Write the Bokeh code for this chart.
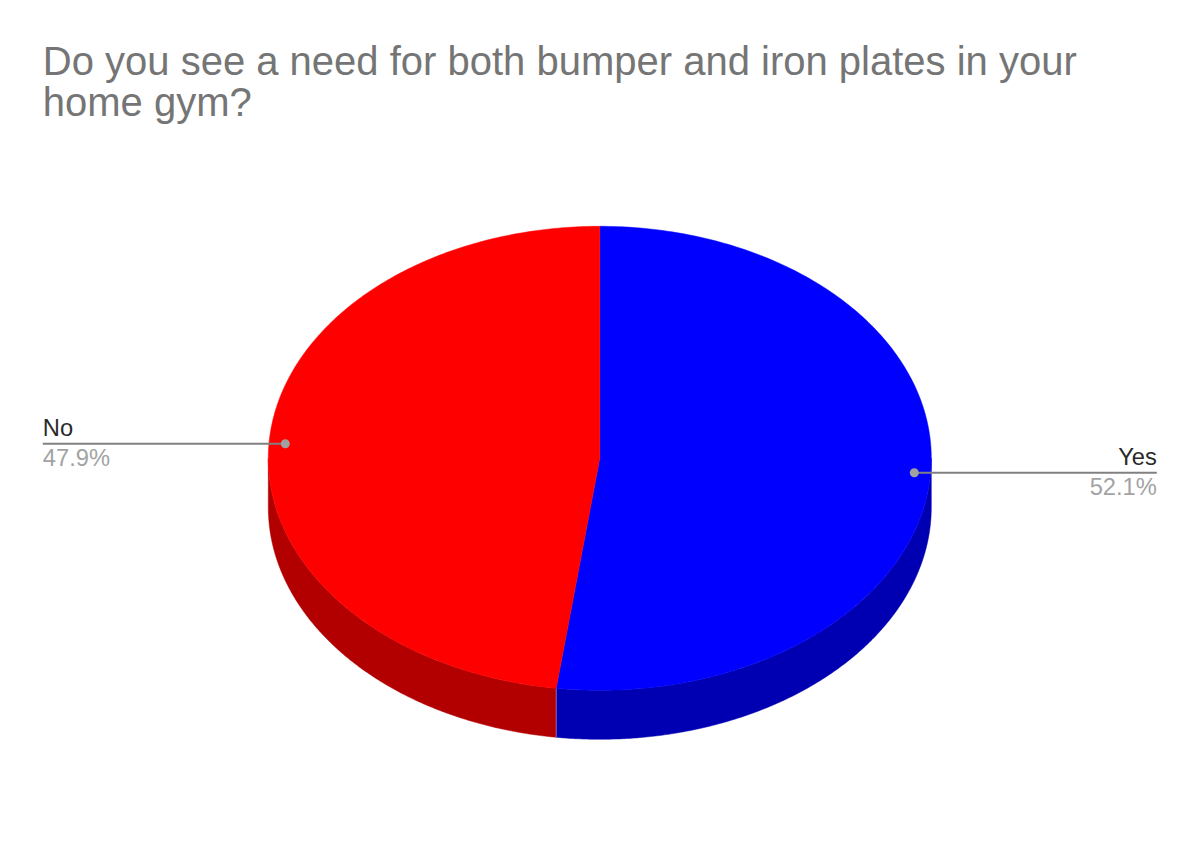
import numpy as np
from bokeh.plotting import figure
from bokeh.embed import file_html
from bokeh.resources import INLINE
from bokeh.core.properties import value
from bokeh.models import Range1d

TITLE_LINES = ["Do you see a need for both bumper and iron plates in your", "home gym?"]
categories = ["Yes", "No"]
values = [52.1, 47.9]
labels = ["52.1%", "47.9%"]
top_colors = ["#0000ff", "#ff0000"]
side_colors = ["#0000b2", "#b20000"]

FONT = "Liberation Sans"
CX, CY, RX, RY, DEPTH = 600.0, 458.5, 331.5, 232.0, 49.0

p = figure(width=1184, height=842, output_backend="svg", toolbar_location=None,
           x_range=Range1d(0.7, 1184.7), y_range=Range1d(842.7, 0.7),
           min_border=0, outline_line_color=None, background_fill_color="white",
           border_fill_color="white", x_axis_location=None, y_axis_location=None)
p.grid.visible = False
p.xaxis.visible = False
p.yaxis.visible = False


def arc(a0, a1, n=240):
    t = np.linspace(a0, a1, n)
    return CX + RX * np.sin(t), CY - RY * np.cos(t)


fractions = np.array(values) / sum(values)
edges = np.concatenate([[0], np.cumsum(fractions)]) * 2 * np.pi

# side walls (only the front half of the ellipse is visible)
for i in range(len(values)):
    a0, a1 = max(edges[i], np.pi / 2), min(edges[i + 1], 3 * np.pi / 2)
    if a1 > a0:
        x, y = arc(a0, a1)
        p.patch(np.concatenate([x, x[::-1]]), np.concatenate([y, y[::-1] + DEPTH]),
                fill_color=side_colors[i], line_color=side_colors[i], line_width=0.5)

# seam between the walls
sx, sy = arc(edges[1], edges[1], 2)
p.line([sx[0], sx[0]], [sy[0], sy[0] + DEPTH], line_color="#7a7ad8", line_width=0.8)

# top faces
for i in range(len(values)):
    x, y = arc(edges[i], edges[i + 1])
    p.patch(np.concatenate([[CX], x]), np.concatenate([[CY], y]),
            fill_color=top_colors[i], line_color=top_colors[i], line_width=0.5)

# leader lines, dots and labels
dot_yes = (914.5, 473.0)
dot_no = (285.5, 444.0)
LEFT, RIGHT = 43.0, 1157.0
p.line([dot_yes[0], RIGHT], [dot_yes[1], dot_yes[1]], line_color="#808080", line_width=2)
p.line([LEFT, dot_no[0]], [dot_no[1], dot_no[1]], line_color="#808080", line_width=2)
p.scatter([dot_yes[0], dot_no[0]], [dot_yes[1], dot_no[1]], size=9, marker="circle",
          fill_color="#a0a0a0", line_color=None)

NAME_DY, PCT_DY = -16, 14
LABEL_SIZE = "23.7px"
p.text([RIGHT], [dot_yes[1] + NAME_DY], text=[categories[0]], text_font=value(FONT), text_font_size=LABEL_SIZE,
       text_color="#2a2a2a", text_align="right", text_baseline="alphabetic")
p.text([RIGHT], [dot_yes[1] + PCT_DY], text=[labels[0]], text_font=value(FONT), text_font_size=LABEL_SIZE,
       text_color="#a3a3a3", text_align="right", text_baseline="alphabetic")
p.text([LEFT], [dot_no[1] + NAME_DY], text=[categories[1]], text_font=value(FONT), text_font_size=LABEL_SIZE,
       text_color="#2a2a2a", text_align="left", text_baseline="alphabetic")
p.text([LEFT], [dot_no[1] + PCT_DY], text=[labels[1]], text_font=value(FONT), text_font_size=LABEL_SIZE,
       text_color="#a3a3a3", text_align="left", text_baseline="alphabetic")

# title
p.text([LEFT, LEFT], [61.6, 102.6], text=TITLE_LINES, text_font=value(FONT), text_font_size="40px",
       text_color="#757575", text_align="left", text_baseline="alphabetic")

open("out.html", "w").write(file_html(p, INLINE))
